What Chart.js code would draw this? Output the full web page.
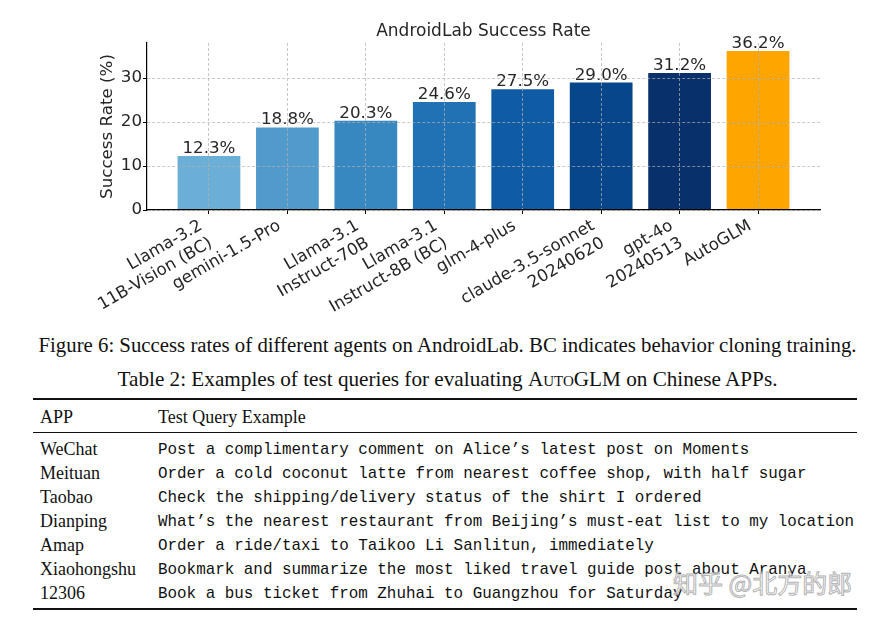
<!DOCTYPE html>
<html>
<head>
<meta charset="utf-8">
<script src="https://cdn.jsdelivr.net/npm/chart.js@4/dist/chart.umd.min.js"></script>
<style>
  html, body { margin: 0; padding: 0; background: #fff; }
  body { width: 888px; height: 621px; position: relative; overflow: hidden; }
  #chart { position: absolute; left: 0; top: 0; }
  .serif { font-family: "Liberation Serif", "Times New Roman", serif; color: #111; position: absolute; white-space: nowrap; line-height: 1; }
  .mono { font-family: "Liberation Mono", "DejaVu Sans Mono", monospace; color: #111; position: absolute; white-space: nowrap; line-height: 1; font-size: 15.9px; }
  .cap { left: 0; width: 895px; text-align: center; font-size: 20.8px; }
  .app { left: 40px; font-size: 18px; }
  .rule { position: absolute; left: 33px; width: 824px; background: #111; }
  #wm { position: absolute; left: 673px; top: 570px; font-family: "Noto Sans CJK SC", sans-serif; font-size: 25px; line-height: 1; color: rgba(255,255,255,0.6); -webkit-text-stroke: 1px rgba(170,170,170,0.9); white-space: nowrap; }
</style>
</head>
<body>
<canvas id="chart" width="888" height="320"></canvas>

<div class="serif cap" style="top:335px">Figure 6: Success rates of different agents on AndroidLab. BC indicates behavior cloning training.</div>
<div class="serif cap" style="top:369px; font-size:21.2px">Table 2: Examples of test queries for evaluating <span style="font-variant: small-caps">Auto</span>GLM on Chinese APPs.</div>

<div class="rule" style="top:398px; height:2px"></div>
<div class="serif app" style="top:408px">APP</div>
<div class="serif" style="top:408px; left:158px; font-size:18px">Test Query Example</div>
<div class="rule" style="top:432px; height:1px"></div>
<div id="rows"></div>
<div class="rule" style="top:608px; height:2px"></div>
<div id="wm">知乎 @北方的郎</div>

<script>
// ---- chart data ----
const categories = [
  ["Llama-3.2", "11B-Vision (BC)"],
  "gemini-1.5-Pro",
  ["Llama-3.1", "Instruct-70B"],
  ["Llama-3.1", "Instruct-8B (BC)"],
  "glm-4-plus",
  ["claude-3.5-sonnet", "20240620"],
  ["gpt-4o", "20240513"],
  "AutoGLM"
];
const successRates = [12.3, 18.8, 20.3, 24.6, 27.5, 29.0, 31.2, 36.2];
const yTickValues = [0, 10, 20, 30];
const yMax = 38;

// ---- table data ----
const apps = ["WeChat", "Meituan", "Taobao", "Dianping", "Amap", "Xiaohongshu", "12306"];
const queries = [
  "Post a complimentary comment on Alice’s latest post on Moments",
  "Order a cold coconut latte from nearest coffee shop, with half sugar",
  "Check the shipping/delivery status of the shirt I ordered",
  "What’s the nearest restaurant from Beijing’s must-eat list to my location",
  "Order a ride/taxi to Taikoo Li Sanlitun, immediately",
  "Bookmark and summarize the most liked travel guide post about Aranya",
  "Book a bus ticket from Zhuhai to Guangzhou for Saturday"
];

// styles
const barColors = ["#6baed6", "#509bcb", "#3787c0", "#2171b5", "#105ca4", "#08468c", "#08306b", "#ffa500"];
const textColor = "#262626";
const fontFamily = "'DejaVu Sans', sans-serif";

// build table rows
const rowsEl = document.getElementById("rows");
apps.forEach((a, i) => {
  const baseline = 455 + i * 24;
  const d1 = document.createElement("div");
  d1.className = "serif app";
  d1.style.top = (baseline - 0.8375 * 18) + "px";
  d1.textContent = a;
  rowsEl.appendChild(d1);
  const d2 = document.createElement("div");
  d2.className = "mono";
  d2.style.left = "158px";
  d2.style.top = (baseline - 0.7665 * 15.9) + "px";
  d2.textContent = queries[i];
  rowsEl.appendChild(d2);
});

const valueLabels = {
  id: "valueLabels",
  afterDatasetsDraw(chart) {
    const ctx = chart.ctx;
    const meta = chart.getDatasetMeta(0);
    ctx.save();
    ctx.font = "16.7px " + fontFamily;
    ctx.fillStyle = textColor;
    ctx.textAlign = "center";
    ctx.textBaseline = "alphabetic";
    meta.data.forEach((bar, i) => {
      ctx.fillText(successRates[i].toFixed(1) + "%", bar.x, bar.y - 3);
    });
    ctx.restore();
  }
};

const gridOpts = {
  color: "rgba(176,176,176,0.7)",
  lineWidth: 1,
  z: 1,
  offset: false,
  drawTicks: true,
  tickLength: 4,
  tickColor: "#000",
  tickWidth: 1,
  tickBorderDash: []
};

new Chart(document.getElementById("chart"), {
  type: "bar",
  data: {
    datasets: [{
      data: successRates.map((v, i) => ({ x: i, y: v })),
      backgroundColor: barColors,
      borderWidth: 0,
      categoryPercentage: 0.8,
      barPercentage: 1.0
    }]
  },
  options: {
    responsive: false,
    animation: false,
    devicePixelRatio: 1,
    layout: { padding: { left: 0, right: 68, top: 0, bottom: 0 } },
    plugins: {
      legend: { display: false },
      tooltip: { enabled: false },
      title: {
        display: true,
        text: "AndroidLab Success Rate",
        fullSize: false,
        color: textColor,
        font: { family: fontFamily, size: 17, weight: "normal" },
        padding: { top: 21, bottom: 1.6 }
      }
    },
    scales: {
      x: {
        type: "linear",
        offset: false,
        min: -0.79,
        max: 7.79,
        afterBuildTicks: (s) => { s.ticks = categories.map((_, i) => ({ value: i })); },
        afterFit: (s) => { s.height = 110; },
        ticks: {
          autoSkip: false,
          minRotation: 30,
          maxRotation: 30,
          padding: 2,
          labelOffset: -8,
          color: textColor,
          font: { family: fontFamily, size: 16.7 },
          callback: (v) => categories[v]
        },
        grid: gridOpts,
        border: { display: true, color: "#000", width: 1.2, dash: [3, 2], z: 2 }
      },
      y: {
        type: "linear",
        min: 0,
        max: yMax,
        afterBuildTicks: (s) => { s.ticks = yTickValues.map(v => ({ value: v })); },
        afterFit: (s) => { s.width = 147; },
        ticks: {
          padding: 1,
          color: textColor,
          font: { family: fontFamily, size: 16.7 }
        },
        title: {
          display: true,
          text: "Success Rate (%)",
          color: textColor,
          font: { family: fontFamily, size: 16.7 },
          padding: { top: 98, bottom: 0 }
        },
        grid: gridOpts,
        border: { display: true, color: "#000", width: 1.2, dash: [3, 2], z: 2 }
      }
    }
  },
  plugins: [valueLabels]
});
</script>
</body>
</html>
